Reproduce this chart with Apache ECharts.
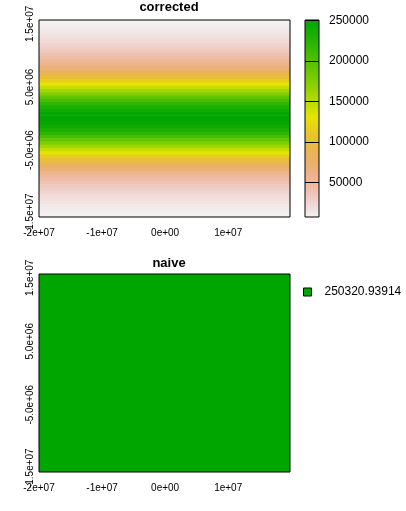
<!DOCTYPE html>
<html>
<head>
<meta charset="utf-8">
<script src="https://cdn.jsdelivr.net/npm/echarts@6/dist/echarts.min.js"></script>
<style>
html,body{margin:0;padding:0;background:#fff;}
#c{width:406px;height:511px;}
</style>
</head>
<body>
<div id="c"></div>
<script>
// ---- data ----
var extentX = [-2.0e7, 1.98e7];
var extentY = [-1.56e7, 1.56e7];
// corrected raster: one value per row, top row first
var correctedRows = [7500, 9400, 11100, 13000, 15200, 17800, 20800, 24300, 28300, 33000,
  38400, 44600, 51600, 59600, 68600, 78700, 89800, 102100, 115400, 129700,
  144700, 160200, 175900, 191400, 206000, 219400, 231000, 240200, 246600, 249900,
  249900, 246600, 240200, 231000, 219400, 206000, 191400, 175900, 160200, 144700,
  129700, 115400, 102100, 89800, 78700, 68600, 59600, 51600, 44600, 38400,
  33000, 28300, 24300, 20800, 17800, 15200, 13000, 11100, 9400, 7500];
var naiveValue = 250320.93914;
var colorRange = [7500, 250320.93914];
var xTicks = [-2e7, -1e7, 0, 1e7];
var xTickLabels = ['-2e+07', '-1e+07', '0e+00', '1e+07'];
var yTicks = [-1.5e7, -1e7, -5e6, 0, 5e6, 1e7, 1.5e7];
var yLabelTicks = [-1.5e7, -5e6, 5e6, 1.5e7];
var yTickLabels = ['-1.5e+07', '-5.0e+06', '5.0e+06', '1.5e+07'];
var legendTicks = [50000, 100000, 150000, 200000, 250000];
var legendTickLabels = ['50000', '100000', '150000', '200000', '250000'];
var titles = ['corrected', 'naive'];

// ---- R terrain.colors palette ----
function hsv2rgb(h, s, v) {
  var i = Math.floor(h * 6), f = h * 6 - i;
  var p = v * (1 - s), q = v * (1 - f * s), t = v * (1 - (1 - f) * s);
  var r, g, b;
  switch (((i % 6) + 6) % 6) {
    case 0: r = v; g = t; b = p; break;
    case 1: r = q; g = v; b = p; break;
    case 2: r = p; g = v; b = t; break;
    case 3: r = p; g = q; b = v; break;
    case 4: r = t; g = p; b = v; break;
    default: r = v; g = p; b = q;
  }
  function hx(x) { var s2 = Math.round(x * 255).toString(16); return s2.length < 2 ? '0' + s2 : s2; }
  return '#' + hx(r) + hx(g) + hx(b);
}
function seq(a, b, n) { var o = []; for (var i = 0; i < n; i++) o.push(n === 1 ? a : a + (b - a) * i / (n - 1)); return o; }
function terrainColors(n) {
  var k = Math.floor(n / 2);
  var h = [4 / 12, 2 / 12, 0], s = [1, 1, 0], v = [0.65, 0.9, 0.95];
  var cols = [];
  var h1 = seq(h[0], h[1], k), s1 = seq(s[0], s[1], k), v1 = seq(v[0], v[1], k);
  for (var i = 0; i < k; i++) cols.push(hsv2rgb(h1[i], s1[i], v1[i]));
  var m = n - k + 1;
  var h2 = seq(h[1], h[2], m), s2 = seq(s[1], s[2], m), v2 = seq(v[1], v[2], m);
  for (var j = 1; j < m; j++) cols.push(hsv2rgb(h2[j], s2[j], v2[j]));
  return cols;
}
var palette = terrainColors(64).reverse();

// ---- build raster cells ----
var rowH = (extentY[1] - extentY[0]) / correctedRows.length;
var correctedData = correctedRows.map(function (val, i) {
  var top = extentY[1] - i * rowH;
  return [extentX[0], extentX[1], top - rowH, top, val];
});
var naiveData = [[extentX[0], extentX[1], extentY[0], extentY[1], naiveValue]];

function renderCell(params, api) {
  var p0 = api.coord([api.value(0), api.value(3)]);
  var p1 = api.coord([api.value(1), api.value(2)]);
  return {
    type: 'rect',
    shape: { x: p0[0], y: p0[1], width: p1[0] - p0[0], height: p1[1] - p0[1] + 0.6 },
    style: { fill: api.visual('color') }
  };
}

var FONT = '"Liberation Sans", Arial, sans-serif';
function xAxisFor(gi) {
  return {
    gridIndex: gi, type: 'value', min: extentX[0], max: extentX[1],
    axisLine: { show: false },
    axisTick: { show: true, length: 5, lineStyle: { color: '#000' }, customValues: xTicks },
    axisLabel: {
      customValues: xTicks, fontSize: 10, color: '#000', fontFamily: FONT, margin: 11,
      formatter: function (v) { var i = xTicks.indexOf(v); return i >= 0 ? xTickLabels[i] : ''; }
    },
    splitLine: { show: false }
  };
}
function yAxisFor(gi) {
  return {
    gridIndex: gi, type: 'value', min: extentY[0], max: extentY[1],
    axisLine: { show: false },
    axisTick: { show: true, length: 5, lineStyle: { color: '#000' }, customValues: yTicks },
    axisLabel: {
      customValues: yLabelTicks, fontSize: 10, color: '#000', fontFamily: FONT, rotate: 90, margin: 4,
      formatter: function (v) { var i = yLabelTicks.indexOf(v); return i >= 0 ? yTickLabels[i] : ''; }
    },
    splitLine: { show: false }
  };
}

var option = {
  animation: false,
  backgroundColor: '#fff',
  title: [
    { text: titles[0], left: 164, top: -4, textAlign: 'center', textStyle: { fontSize: 13, fontWeight: 'bold', color: '#000', fontFamily: FONT } },
    { text: titles[1], left: 164, top: 252, textAlign: 'center', textStyle: { fontSize: 13, fontWeight: 'bold', color: '#000', fontFamily: FONT } }
  ],
  grid: [
    { left: 39, top: 20, width: 251, height: 197, show: true, borderColor: '#000', borderWidth: 1, backgroundColor: 'transparent', z: 10 },
    { left: 39, top: 274, width: 251, height: 198, show: true, borderColor: '#000', borderWidth: 1, backgroundColor: 'transparent', z: 10 },
    { left: 305, top: 20, width: 14, height: 197, show: true, borderColor: '#000', borderWidth: 1, backgroundColor: 'transparent', z: 10 }
  ],
  xAxis: [
    xAxisFor(0), xAxisFor(1),
    { gridIndex: 2, type: 'value', min: 0, max: 1, show: false }
  ],
  yAxis: [
    yAxisFor(0), yAxisFor(1),
    {
      gridIndex: 2, type: 'value', position: 'right', min: colorRange[0], max: colorRange[1],
      axisLine: { show: false },
      axisTick: { show: true, length: 4, lineStyle: { color: '#000' }, customValues: legendTicks },
      axisLabel: {
        customValues: legendTicks, fontSize: 12, color: '#000', fontFamily: FONT, margin: 10,
        formatter: function (v) { var i = legendTicks.indexOf(v); return i >= 0 ? legendTickLabels[i] : ''; }
      },
      splitLine: { show: false }, z: 12
    },
    {
      gridIndex: 2, type: 'value', position: 'right', min: colorRange[0], max: colorRange[1],
      axisLine: { show: false },
      axisTick: { show: true, inside: true, length: 14, lineStyle: { color: '#000' }, customValues: legendTicks },
      axisLabel: { show: false },
      splitLine: { show: false }, z: 12
    }
  ],
  visualMap: [{
    type: 'continuous', seriesIndex: 0, dimension: 4,
    min: colorRange[0], max: colorRange[1],
    inRange: { color: palette },
    calculable: false, text: null, showLabel: false,
    left: 305, top: 20, itemWidth: 14, itemHeight: 197, padding: 0, orient: 'vertical'
  }],
  legend: {
    data: [{ name: '250320.93914', icon: 'rect', itemStyle: { color: '#00A600', borderColor: '#000', borderWidth: 1 } }],
    left: 298, top: 281, itemWidth: 8, itemHeight: 8, itemGap: 5,
    textStyle: { fontSize: 12, color: '#000', fontFamily: FONT, padding: [0, 0, 0, 8] }, selectedMode: false
  },
  series: [
    {
      name: 'corrected', type: 'custom', coordinateSystem: 'cartesian2d', xAxisIndex: 0, yAxisIndex: 0,
      data: correctedData, encode: { x: [0, 1], y: [2, 3] }, renderItem: renderCell, clip: true, silent: true
    },
    {
      name: '250320.93914', type: 'custom', coordinateSystem: 'cartesian2d', xAxisIndex: 1, yAxisIndex: 1,
      data: naiveData, encode: { x: [0, 1], y: [2, 3] }, renderItem: renderCell, clip: true, silent: true,
      itemStyle: { color: '#00A600' }
    }
  ]
};
var chart = echarts.init(document.getElementById('c'), null, { renderer: 'canvas' });
chart.setOption(option);
</script>
</body>
</html>
